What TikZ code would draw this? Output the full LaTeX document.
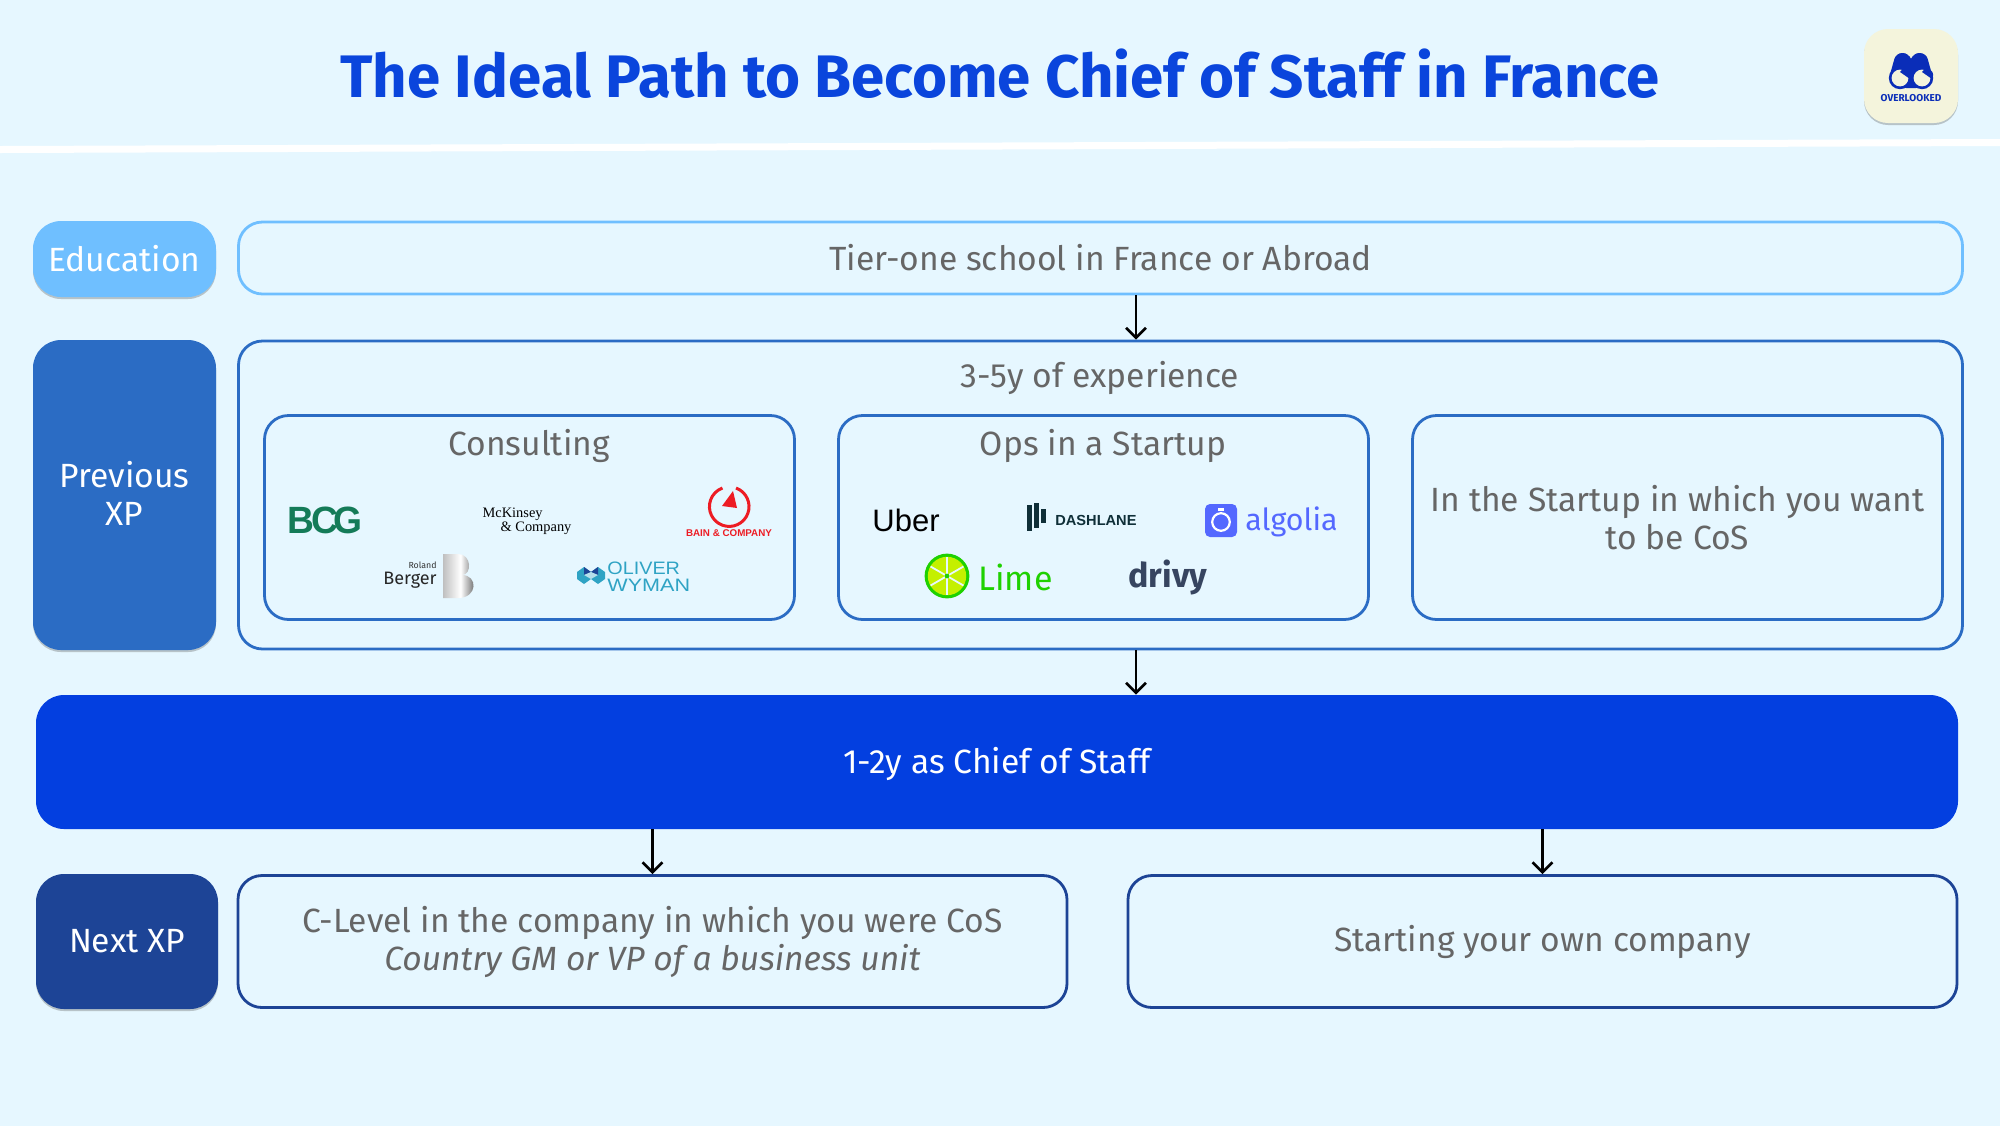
\documentclass[tikz,border=0pt]{standalone}
\usepackage{fontspec}
\setmainfont{Fira Sans}
\newfontfamily\serifface{Liberation Serif}
\newfontfamily\headface{Liberation Sans}
\usetikzlibrary{shadows,arrows.meta}
\definecolor{pagebg}{HTML}{E6F7FF}
\definecolor{educolor}{HTML}{6FBFFF}
\definecolor{xpcolor}{HTML}{2B6CC4}
\definecolor{coscolor}{HTML}{033FE0}
\definecolor{nextcolor}{HTML}{1D4496}
\definecolor{textgray}{HTML}{666666}
\definecolor{titleblue}{HTML}{0A45DC}
\definecolor{logoblue}{HTML}{0A2DB8}
\definecolor{logocream}{HTML}{F4F4DC}
\definecolor{bcggreen}{HTML}{147B58}
\definecolor{bainred}{HTML}{ED1C24}
\definecolor{wymanblue}{HTML}{2FA3C4}
\definecolor{dashdark}{HTML}{0F2F38}
\definecolor{algoliablue}{HTML}{5468FF}
\definecolor{limegreen}{HTML}{1FD100}
\definecolor{limeyellow}{HTML}{C4F000}
\definecolor{drivygray}{HTML}{374560}
\tikzset{
  softshadow/.style={drop shadow={shadow xshift=0pt,shadow yshift=-1pt,opacity=.3,fill=black!70}},
  sidebox/.style={rounded corners=14pt,text=white,align=center,font=\fontsize{16.8}{19}\selectfont,softshadow},
  framebox/.style={draw,line width=1.4pt,rounded corners=12pt,fill=pagebg,text=textgray,align=center,font=\fontsize{16.8}{19}\selectfont},
  boxtitle/.style={text=textgray,font=\fontsize{16.8}{19}\selectfont,inner sep=0pt},
  flow/.style={line width=1.3pt,-{Straight Barb[length=5pt,width=10pt]}}
}
\begin{document}
\begin{tikzpicture}[x=0.5pt,y=-0.5pt]
\useasboundingbox (0,0) rectangle (2000,1126);
\fill[pagebg] (0,0) rectangle (2000,1126);
\fill[white] (0,146) -- (2000,139) -- (2000,146) -- (0,153) -- cycle;
\node[text=titleblue,font=\bfseries\fontsize{30}{34}\selectfont,inner sep=0pt] (title) at (1000,74) {The Ideal Path to Become Chief of Staff in France};

\node[fill=logocream,rounded corners=12pt,minimum width=47pt,minimum height=47pt,inner sep=0pt,softshadow] (logobox) at (1911,76) {};
\fill[logoblue,rounded corners=3pt] (1889,78) -- (1896,53) -- (1909,53) -- (1911,62) -- (1913,53) -- (1926,53) -- (1933,78) -- (1922,88) -- (1900,88) -- cycle;
\fill[logoblue] (1900,78) circle (5.6pt) (1922,78) circle (5.6pt);
\fill[logocream] (1900,78) circle (4.2pt) (1922,78) circle (4.2pt);
\fill[logoblue] (1900,72) arc (150:-40:3pt) -- cycle (1922,72) arc (150:-40:3pt) -- cycle;
\node[text=logoblue,font=\fontsize{5}{6}\selectfont,inner sep=0pt] (logotext) at (1911,98) {\bfseries OVERLOOKED};

\node[sidebox,fill=educolor,minimum width=91.5pt,minimum height=38pt,inner sep=0pt] (education) at (124.5,259) {\raisebox{1pt}{Education}};
\node[framebox,draw=educolor,minimum width=862pt,minimum height=36pt,inner sep=0pt] (school) at (1100.5,258) {\raisebox{1pt}{Tier-one school in France or Abroad}};

\node[sidebox,fill=xpcolor,minimum width=91.5pt,minimum height=155pt,inner sep=0pt] (previous) at (124.5,495) {\raisebox{1.2pt}{Previous}\\\raisebox{1.2pt}{XP}};
\node[framebox,draw=xpcolor,minimum width=862pt,minimum height=154pt,inner sep=0pt] (experience) at (1100.5,495) {};
\node[boxtitle] (experiencetitle) at (1100,378) {3-5y of experience};

\node[framebox,draw=xpcolor,minimum width=265pt,minimum height=102pt,inner sep=0pt] (consulting) at (529.5,517.5) {};
\node[boxtitle] (consultingtitle) at (529,446) {Consulting};
\node[framebox,draw=xpcolor,minimum width=265pt,minimum height=102pt,inner sep=0pt] (ops) at (1103.5,517.5) {};
\node[boxtitle] (opstitle) at (1103,446) {Ops in a Startup};
\node[framebox,draw=xpcolor,minimum width=265pt,minimum height=102pt,inner sep=0pt] (startup) at (1677.5,517.5) {\raisebox{.6pt}{In the Startup in which you want}\\\raisebox{.6pt}{to be CoS}};

\node[rounded corners=14pt,fill=coscolor,minimum width=961pt,minimum height=67pt,inner sep=0pt] (cos) at (997,762) {};
\node[text=white,font=\fontsize{16.8}{19}\selectfont,inner sep=0pt] (costext) at (997,764) {1-2y as Chief of Staff};

\node[sidebox,fill=nextcolor,minimum width=91pt,minimum height=67.5pt,inner sep=0pt] (next) at (127,941.5) {Next XP};
\node[framebox,draw=nextcolor,minimum width=414.5pt,minimum height=66pt,inner sep=0pt] (clevel) at (652.5,941.5) {\raisebox{-.5pt}{C-Level in the company in which you were CoS}\\\raisebox{-.5pt}{\itshape Country GM or VP of a business unit}};
\node[framebox,draw=nextcolor,minimum width=414.5pt,minimum height=66pt,inner sep=0pt] (own) at (1542.5,941.5) {\raisebox{-.5pt}{Starting your own company}};

\coordinate (midx) at (1136,0);
\draw[flow] (school.south -| midx) -- (experience.north -| midx);
\draw[flow] (experience.south -| midx) -- (cos.north -| midx);
\draw[flow] (cos.south -| clevel.north) -- (clevel.north);
\draw[flow] (cos.south -| own.north) -- (own.north);

\node[text=bcggreen,font=\headface\bfseries\fontsize{19}{20}\selectfont,inner sep=0pt] (bcg) at (325,520) {\scalebox{.98}[1]{B\kern-1.5ptC\kern-2ptG}};
\node[font=\serifface\fontsize{7.2}{7}\selectfont,align=left,inner sep=0pt] (mckinsey) at (527,521) {McKinsey\\\hspace{9pt}\& Company};
\draw[bainred,line width=1.5pt] (736,488) arc (70:-250:9.9pt);
\fill[bainred] (733,491) -- (737,508) -- (722,506) -- cycle;
\node[text=bainred,font=\headface\bfseries\fontsize{4.9}{5}\selectfont,inner sep=0pt] (bain) at (729,533) {BAIN \& COMPANY};
\node[anchor=east,font=\fontsize{4.4}{5}\selectfont,text=black!80,inner sep=0pt] (roland) at (437,565) {Roland};
\node[anchor=east,font=\fontsize{9}{10}\selectfont,text=black!85,inner sep=0pt] (berger) at (437,580) {Berger};
\shade[left color=black!25,right color=black!70,middle color=white] (443,554) -- (458,554) .. controls (472,554) and (472,575) .. (462,575) .. controls (478,575) and (478,598) .. (458,598) -- (443,598) -- cycle;
\fill[wymanblue] (577,572) -- (584,567) -- (591,572) -- (598,567) -- (605,572) -- (605,579) -- (598,584) -- (591,579) -- (584,584) -- (577,579) -- cycle;
\fill[nextcolor] (584,567) -- (591,572) -- (584,575) -- cycle (598,567) -- (591,572) -- (598,575) -- cycle;
\fill[wymanblue!35] (584,575) -- (591,572) -- (598,575) -- (591,579) -- cycle;
\node[anchor=west,text=wymanblue,font=\headface\fontsize{9}{10}\selectfont,inner sep=0pt] (oliver) at (607,568) {\scalebox{1.1}[1]{OLIVER}};
\node[anchor=west,text=wymanblue,font=\headface\fontsize{9}{10}\selectfont,inner sep=0pt] (wyman) at (607,585) {\scalebox{1.2}[1]{WYMAN}};

\node[anchor=west,font=\headface\fontsize{15.5}{17}\selectfont,text=black,inner sep=0pt] (uber) at (872,520) {Uber};
\foreach \barx/\bartop/\barbot in {1027/505/531,1034/503/528,1041/509/523}
  \fill[dashdark] (\barx,\bartop) rectangle +(5,{\barbot-\bartop});
\node[anchor=west,text=dashdark,font=\headface\bfseries\fontsize{7.3}{9}\selectfont,inner sep=0pt] (dashlane) at (1055,520) {DASHLANE};
\node[fill=algoliablue,rounded corners=2.5pt,minimum width=16pt,minimum height=16.5pt,inner sep=0pt] (algoliaicon) at (1221,520.5) {};
\draw[white,line width=1.1pt] (1221,522) circle (4.4pt);
\fill[white] (1218,508) rectangle (1224,511);
\node[anchor=west,text=algoliablue,font=\fontsize{15.2}{18}\selectfont,inner sep=0pt] (algolia) at (1245,522) {algolia};
\fill[limegreen] (947,576) circle (11.2pt);
\fill[limeyellow] (947,576) circle (9.6pt);
\foreach \spoke in {30,90,...,330}
  \draw[pagebg,line width=.9pt] (947,576) -- +(\spoke:19);
\fill[limegreen] (947,576) circle (1.2pt);
\node[anchor=west,text=limegreen,font=\fontsize{17}{20}\selectfont,inner sep=0pt] (lime) at (978,577) {Lime};
\node[anchor=west,text=drivygray,font=\bfseries\fontsize{17}{18}\selectfont,inner sep=0pt] (drivy) at (1128,577) {drivy};
\end{tikzpicture}
\end{document}
